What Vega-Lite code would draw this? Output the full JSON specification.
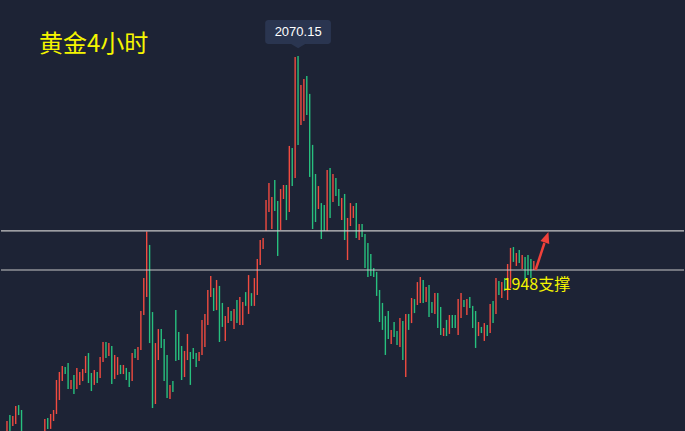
{
  "$schema": "https://vega.github.io/schema/vega-lite/v6.json",
  "width": 685,
  "height": 431,
  "autosize": {"type": "fit", "contains": "padding"},
  "padding": 0,
  "background": "#1d2335",
  "config": {"view": {"stroke": null}},
  "datasets": {
    "candles": [
      {"i":0,"high":1861.8,"low":1852,"dir":"down"},
      {"i":1,"high":1865.2,"low":1853,"dir":"up"},
      {"i":2,"high":1864.6,"low":1859.0,"dir":"down"},
      {"i":3,"high":1870.4,"low":1860.1,"dir":"down"},
      {"i":4,"high":1870.9,"low":1865.2,"dir":"up"},
      {"i":5,"high":1868.1,"low":1851,"dir":"up"},
      {"i":6,"high":1852,"low":1842,"dir":"up"},
      {"i":7,"high":1850,"low":1840,"dir":"down"},
      {"i":8,"high":1848,"low":1838,"dir":"up"},
      {"i":9,"high":1853,"low":1843,"dir":"down"},
      {"i":10,"high":1852,"low":1845,"dir":"up"},
      {"i":11,"high":1854,"low":1846,"dir":"down"},
      {"i":12,"high":1855,"low":1847,"dir":"up"},
      {"i":13,"high":1862.9,"low":1852,"dir":"down"},
      {"i":14,"high":1863.5,"low":1857.3,"dir":"up"},
      {"i":15,"high":1865.8,"low":1857.3,"dir":"down"},
      {"i":16,"high":1868.1,"low":1861.8,"dir":"down"},
      {"i":17,"high":1885.2,"low":1865.8,"dir":"down"},
      {"i":18,"high":1889.8,"low":1873.8,"dir":"down"},
      {"i":19,"high":1893.2,"low":1884.6,"dir":"down"},
      {"i":20,"high":1892.6,"low":1888.6,"dir":"up"},
      {"i":21,"high":1894.9,"low":1880.1,"dir":"up"},
      {"i":22,"high":1885.2,"low":1880.1,"dir":"down"},
      {"i":23,"high":1888.1,"low":1877.2,"dir":"up"},
      {"i":24,"high":1892.1,"low":1880.1,"dir":"down"},
      {"i":25,"high":1889.8,"low":1882.4,"dir":"down"},
      {"i":26,"high":1891.5,"low":1884.6,"dir":"down"},
      {"i":27,"high":1898.9,"low":1889.2,"dir":"down"},
      {"i":28,"high":1900.6,"low":1883.5,"dir":"up"},
      {"i":29,"high":1889.2,"low":1878.9,"dir":"up"},
      {"i":30,"high":1890.9,"low":1882.4,"dir":"down"},
      {"i":31,"high":1889.8,"low":1883.5,"dir":"up"},
      {"i":32,"high":1898.3,"low":1886.4,"dir":"down"},
      {"i":33,"high":1906.9,"low":1895.5,"dir":"down"},
      {"i":34,"high":1906.9,"low":1897.8,"dir":"up"},
      {"i":35,"high":1906.3,"low":1898.9,"dir":"down"},
      {"i":36,"high":1904.6,"low":1882.9,"dir":"up"},
      {"i":37,"high":1899.5,"low":1885.8,"dir":"down"},
      {"i":38,"high":1898.3,"low":1888.1,"dir":"down"},
      {"i":39,"high":1893.8,"low":1888.6,"dir":"up"},
      {"i":40,"high":1893.8,"low":1888.6,"dir":"down"},
      {"i":41,"high":1892.1,"low":1885.2,"dir":"up"},
      {"i":42,"high":1889.8,"low":1881.2,"dir":"up"},
      {"i":43,"high":1900.6,"low":1884.6,"dir":"down"},
      {"i":44,"high":1902.9,"low":1897.8,"dir":"up"},
      {"i":45,"high":1904.1,"low":1896.6,"dir":"down"},
      {"i":46,"high":1924.6,"low":1902.3,"dir":"down"},
      {"i":47,"high":1943.4,"low":1922.3,"dir":"down"},
      {"i":48,"high":1970.0,"low":1932.6,"dir":"down"},
      {"i":49,"high":1962.3,"low":1906.3,"dir":"up"},
      {"i":50,"high":1924.0,"low":1869.2,"dir":"up"},
      {"i":51,"high":1906.3,"low":1871.5,"dir":"down"},
      {"i":52,"high":1914.3,"low":1896.6,"dir":"down"},
      {"i":53,"high":1914.3,"low":1903.5,"dir":"up"},
      {"i":54,"high":1908.6,"low":1884.6,"dir":"up"},
      {"i":55,"high":1899.5,"low":1874.9,"dir":"up"},
      {"i":56,"high":1882.4,"low":1874.4,"dir":"down"},
      {"i":57,"high":1884.6,"low":1878.4,"dir":"up"},
      {"i":58,"high":1925.1,"low":1896.1,"dir":"up"},
      {"i":59,"high":1912.6,"low":1896.6,"dir":"up"},
      {"i":60,"high":1904.6,"low":1885.2,"dir":"up"},
      {"i":61,"high":1901.8,"low":1886.9,"dir":"down"},
      {"i":62,"high":1911.5,"low":1896.6,"dir":"down"},
      {"i":63,"high":1901.2,"low":1882.4,"dir":"up"},
      {"i":64,"high":1903.5,"low":1897.2,"dir":"up"},
      {"i":65,"high":1900.6,"low":1892.6,"dir":"up"},
      {"i":66,"high":1901.2,"low":1896.1,"dir":"down"},
      {"i":67,"high":1919.5,"low":1899.5,"dir":"down"},
      {"i":68,"high":1922.9,"low":1904.1,"dir":"down"},
      {"i":69,"high":1936.6,"low":1916.6,"dir":"down"},
      {"i":70,"high":1944.6,"low":1932.6,"dir":"down"},
      {"i":71,"high":1937.7,"low":1924.6,"dir":"up"},
      {"i":72,"high":1942.3,"low":1925.1,"dir":"down"},
      {"i":73,"high":1938.9,"low":1906.9,"dir":"up"},
      {"i":74,"high":1929.2,"low":1915.5,"dir":"up"},
      {"i":75,"high":1921.7,"low":1907.5,"dir":"down"},
      {"i":76,"high":1926.9,"low":1917.7,"dir":"down"},
      {"i":77,"high":1924.6,"low":1918.9,"dir":"up"},
      {"i":78,"high":1925.7,"low":1914.3,"dir":"down"},
      {"i":79,"high":1930.9,"low":1917.7,"dir":"up"},
      {"i":80,"high":1932.6,"low":1916.6,"dir":"down"},
      {"i":81,"high":1929.7,"low":1916.6,"dir":"down"},
      {"i":82,"high":1935.4,"low":1927.5,"dir":"up"},
      {"i":83,"high":1945.1,"low":1922.9,"dir":"down"},
      {"i":84,"high":1934.8,"low":1927.5,"dir":"up"},
      {"i":85,"high":1943.4,"low":1927.5,"dir":"down"},
      {"i":86,"high":1954.3,"low":1933.7,"dir":"down"},
      {"i":87,"high":1965.1,"low":1950.9,"dir":"down"},
      {"i":88,"high":1966.3,"low":1960.0,"dir":"down"},
      {"i":89,"high":1988.0,"low":1970.3,"dir":"down"},
      {"i":90,"high":1997.7,"low":1981.1,"dir":"down"},
      {"i":91,"high":1989.7,"low":1971.4,"dir":"down"},
      {"i":92,"high":1999.4,"low":1981.7,"dir":"up"},
      {"i":93,"high":1987.4,"low":1956.0,"dir":"up"},
      {"i":94,"high":1994.2,"low":1970.8,"dir":"down"},
      {"i":95,"high":1996.5,"low":1988.5,"dir":"down"},
      {"i":96,"high":1996.5,"low":1976.5,"dir":"up"},
      {"i":97,"high":2018.8,"low":1981.1,"dir":"down"},
      {"i":98,"high":2017.6,"low":1995.9,"dir":"up"},
      {"i":99,"high":2069.6,"low":2000.5,"dir":"down"},
      {"i":100,"high":2070.15,"low":2019.4,"dir":"up"},
      {"i":101,"high":2053.6,"low":2030.8,"dir":"down"},
      {"i":102,"high":2057.0,"low":2033.1,"dir":"down"},
      {"i":103,"high":2058.7,"low":2036.5,"dir":"up"},
      {"i":104,"high":2048.5,"low":2001.1,"dir":"up"},
      {"i":105,"high":2019.4,"low":1971.4,"dir":"up"},
      {"i":106,"high":2002.8,"low":1975.4,"dir":"up"},
      {"i":107,"high":1995.9,"low":1982.8,"dir":"down"},
      {"i":108,"high":1986.2,"low":1965.7,"dir":"up"},
      {"i":109,"high":1985.1,"low":1970.3,"dir":"up"},
      {"i":110,"high":2005.1,"low":1970.3,"dir":"down"},
      {"i":111,"high":2006.2,"low":1977.7,"dir":"up"},
      {"i":112,"high":2002.8,"low":1986.8,"dir":"down"},
      {"i":113,"high":2000.5,"low":1990.2,"dir":"up"},
      {"i":114,"high":1994.2,"low":1984.5,"dir":"up"},
      {"i":115,"high":1989.1,"low":1976.5,"dir":"down"},
      {"i":116,"high":1991.4,"low":1965.1,"dir":"up"},
      {"i":117,"high":1977.7,"low":1953.7,"dir":"down"},
      {"i":118,"high":1986.2,"low":1973.1,"dir":"down"},
      {"i":119,"high":1984.5,"low":1977.7,"dir":"down"},
      {"i":120,"high":1986.2,"low":1966.3,"dir":"up"},
      {"i":121,"high":1974.3,"low":1965.1,"dir":"down"},
      {"i":122,"high":1974.3,"low":1966.8,"dir":"up"},
      {"i":123,"high":1968.5,"low":1949.1,"dir":"up"},
      {"i":124,"high":1963.4,"low":1944.0,"dir":"up"},
      {"i":125,"high":1957.1,"low":1944.6,"dir":"up"},
      {"i":126,"high":1949.1,"low":1944.0,"dir":"up"},
      {"i":127,"high":1946.9,"low":1933.2,"dir":"up"},
      {"i":128,"high":1936.6,"low":1918.3,"dir":"up"},
      {"i":129,"high":1929.2,"low":1913.8,"dir":"up"},
      {"i":130,"high":1921.7,"low":1899.5,"dir":"up"},
      {"i":131,"high":1924.6,"low":1908.6,"dir":"up"},
      {"i":132,"high":1913.8,"low":1905.8,"dir":"down"},
      {"i":133,"high":1918.3,"low":1909.8,"dir":"up"},
      {"i":134,"high":1913.2,"low":1905.2,"dir":"up"},
      {"i":135,"high":1920.6,"low":1904.1,"dir":"down"},
      {"i":136,"high":1918.9,"low":1896.6,"dir":"up"},
      {"i":137,"high":1922.9,"low":1886.9,"dir":"down"},
      {"i":138,"high":1922.9,"low":1913.8,"dir":"up"},
      {"i":139,"high":1932.0,"low":1917.7,"dir":"down"},
      {"i":140,"high":1931.4,"low":1923.4,"dir":"up"},
      {"i":141,"high":1941.1,"low":1928.0,"dir":"down"},
      {"i":142,"high":1944.0,"low":1929.2,"dir":"down"},
      {"i":143,"high":1942.3,"low":1929.2,"dir":"up"},
      {"i":144,"high":1938.3,"low":1929.7,"dir":"down"},
      {"i":145,"high":1939.4,"low":1921.2,"dir":"up"},
      {"i":146,"high":1929.7,"low":1923.4,"dir":"up"},
      {"i":147,"high":1934.8,"low":1922.9,"dir":"down"},
      {"i":148,"high":1934.8,"low":1914.9,"dir":"up"},
      {"i":149,"high":1926.9,"low":1910.9,"dir":"up"},
      {"i":150,"high":1914.9,"low":1910.3,"dir":"down"},
      {"i":151,"high":1919.5,"low":1910.3,"dir":"up"},
      {"i":152,"high":1922.3,"low":1911.5,"dir":"down"},
      {"i":153,"high":1922.3,"low":1914.9,"dir":"up"},
      {"i":154,"high":1922.3,"low":1914.9,"dir":"up"},
      {"i":155,"high":1931.4,"low":1910.9,"dir":"down"},
      {"i":156,"high":1934.8,"low":1920.6,"dir":"down"},
      {"i":157,"high":1930.9,"low":1926.9,"dir":"up"},
      {"i":158,"high":1931.4,"low":1922.3,"dir":"down"},
      {"i":159,"high":1932.6,"low":1926.3,"dir":"up"},
      {"i":160,"high":1927.5,"low":1914.9,"dir":"up"},
      {"i":161,"high":1924.6,"low":1903.5,"dir":"up"},
      {"i":162,"high":1918.3,"low":1910.3,"dir":"down"},
      {"i":163,"high":1915.5,"low":1912.0,"dir":"up"},
      {"i":164,"high":1917.7,"low":1907.5,"dir":"down"},
      {"i":165,"high":1916.6,"low":1910.3,"dir":"up"},
      {"i":166,"high":1928.6,"low":1912.0,"dir":"down"},
      {"i":167,"high":1930.3,"low":1917.7,"dir":"up"},
      {"i":168,"high":1943.4,"low":1922.9,"dir":"down"},
      {"i":169,"high":1941.7,"low":1933.7,"dir":"up"},
      {"i":170,"high":1941.1,"low":1932.0,"dir":"down"},
      {"i":171,"high":1943.4,"low":1936.0,"dir":"up"},
      {"i":172,"high":1951.4,"low":1930.9,"dir":"down"},
      {"i":173,"high":1960.6,"low":1937.7,"dir":"down"},
      {"i":174,"high":1961.1,"low":1952.6,"dir":"up"},
      {"i":175,"high":1957.7,"low":1950.3,"dir":"down"},
      {"i":176,"high":1959.4,"low":1952.0,"dir":"up"},
      {"i":177,"high":1956.6,"low":1948.6,"dir":"down"},
      {"i":178,"high":1955.4,"low":1942.9,"dir":"up"},
      {"i":179,"high":1956.6,"low":1945.1,"dir":"up"},
      {"i":180,"high":1954.3,"low":1943.4,"dir":"up"},
      {"i":181,"high":1953.1,"low":1948.0,"dir":"down"}
    ],
    "levels": [{"price": 1970.3}, {"price": 1948}],
    "arrow": [{"i": 181.6, "price": 1948.0}, {"i": 184.65, "price": 1963.4}],
    "arrowhead": [{"i": 185.4, "price": 1966.7}],
    "label": [{"i": 170.3, "price": 1939.4, "text": "1948支撑"}],
    "title": [{"i": 11.0, "price": 2076.4, "text": "黄金4小时"}],
    "tipbox": [{"i": 88.7, "i2": 111.3, "price": 2090.7, "price2": 2077.0}],
    "tippointer": [{"i": 100.03, "price": 2077.0}],
    "tiptext": [{"i": 100.03, "price": 2083.6, "text": "2070.15"}]
  },
  "layer": [
    {
      "data": {"name": "candles"},
      "mark": {"type": "rule", "strokeWidth": 1.4, "clip": true},
      "encoding": {
        "x": {"field": "i", "type": "quantitative", "scale": {"domain": [-2.056, 232.6], "nice": false, "zero": false}, "axis": null},
        "y": {"field": "high", "type": "quantitative", "scale": {"domain": [1856.1, 2102.1], "nice": false, "zero": false}, "axis": null},
        "y2": {"field": "low"},
        "color": {"field": "dir", "type": "nominal", "scale": {"domain": ["up", "down"], "range": ["#27c07e", "#f04b40"]}, "legend": null}
      }
    },
    {
      "data": {"name": "levels"},
      "mark": {"type": "rule", "color": "#c8c8c8", "strokeWidth": 1.2},
      "encoding": {"y": {"field": "price", "type": "quantitative"}}
    },
    {
      "data": {"name": "arrow"},
      "mark": {"type": "line", "color": "#f0413a", "strokeWidth": 2.5},
      "encoding": {
        "x": {"field": "i", "type": "quantitative"},
        "y": {"field": "price", "type": "quantitative"}
      }
    },
    {
      "data": {"name": "arrowhead"},
      "mark": {"type": "point", "shape": "M0,-1L0.85,1L-0.85,1Z", "filled": true, "color": "#f0413a", "opacity": 1, "size": 121, "angle": 19},
      "encoding": {
        "x": {"field": "i", "type": "quantitative"},
        "y": {"field": "price", "type": "quantitative"}
      }
    },
    {
      "data": {"name": "label"},
      "mark": {"type": "text", "align": "left", "baseline": "middle", "font": "Noto Sans CJK SC", "fontSize": 16, "color": "#f5f500"},
      "encoding": {
        "x": {"field": "i", "type": "quantitative"},
        "y": {"field": "price", "type": "quantitative"},
        "text": {"field": "text"}
      }
    },
    {
      "data": {"name": "title"},
      "mark": {"type": "text", "align": "left", "baseline": "middle", "font": "Noto Sans CJK SC", "fontSize": 24, "color": "#f5f500"},
      "encoding": {
        "x": {"field": "i", "type": "quantitative"},
        "y": {"field": "price", "type": "quantitative"},
        "text": {"field": "text"}
      }
    },
    {
      "data": {"name": "tipbox"},
      "mark": {"type": "rect", "color": "#2a3550", "cornerRadius": 3},
      "encoding": {
        "x": {"field": "i", "type": "quantitative"},
        "x2": {"field": "i2"},
        "y": {"field": "price", "type": "quantitative"},
        "y2": {"field": "price2"}
      }
    },
    {
      "data": {"name": "tippointer"},
      "mark": {"type": "point", "shape": "M-1,0L1,0L0,0.6Z", "filled": true, "color": "#2a3550", "opacity": 1, "size": 196},
      "encoding": {
        "x": {"field": "i", "type": "quantitative"},
        "y": {"field": "price", "type": "quantitative"}
      }
    },
    {
      "data": {"name": "tiptext"},
      "mark": {"type": "text", "align": "center", "baseline": "middle", "font": "Liberation Sans", "fontSize": 13, "color": "#ffffff"},
      "encoding": {
        "x": {"field": "i", "type": "quantitative"},
        "y": {"field": "price", "type": "quantitative"},
        "text": {"field": "text"}
      }
    }
  ]
}
